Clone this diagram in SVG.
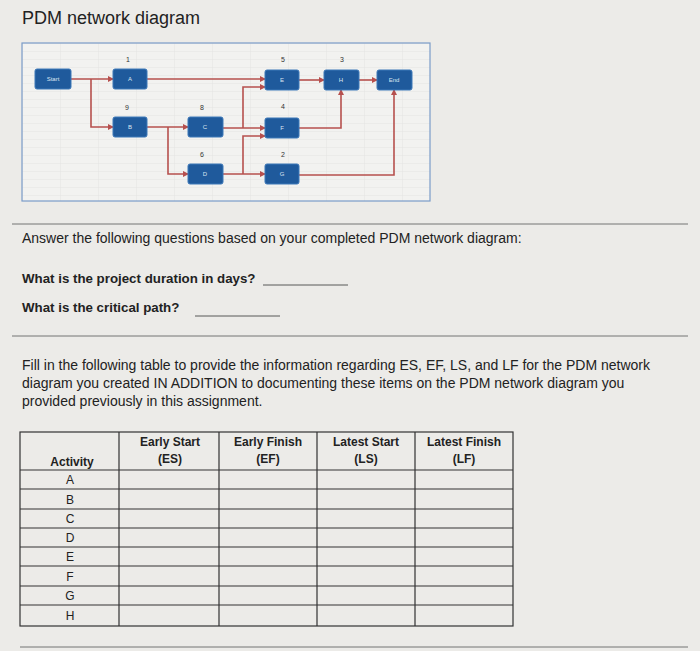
<svg xmlns="http://www.w3.org/2000/svg" width="700" height="651" viewBox="0 0 700 651">
<style>
text{font-family:"Liberation Sans",Arial,sans-serif;fill:#222}
.n rect{fill:#1f5a9c;stroke:#3d78b8;stroke-width:1}
.n text{fill:#dde6f2;font-size:6px;text-anchor:middle}
.d{font-size:7px;text-anchor:middle;fill:#333}
.c{fill:none;stroke:#b6504e;stroke-width:1.6}
.t{fill:none;stroke:#333;stroke-width:1.2}
.b{font-weight:bold;font-size:13.3px}
.h{font-weight:bold;font-size:12px;text-anchor:middle}
.r{font-size:12px;text-anchor:middle}
.p{font-size:14px}
</style>
<defs>
<marker id="ar" markerWidth="6" markerHeight="6" refX="5" refY="3" orient="auto" markerUnits="userSpaceOnUse"><path d="M0,0L6,3L0,6z" fill="#b6504e"/></marker>
<pattern id="grid" width="38" height="8" patternUnits="userSpaceOnUse" x="22" y="43"><path d="M0,0H38M0,0V8" stroke="#d8d8d8" stroke-width="0.6" fill="none"/></pattern>
</defs>
<rect width="700" height="651" fill="#ecebe8"/>
<text x="22" y="24" font-size="18">PDM network diagram</text>
<rect x="22" y="43" width="408" height="158" fill="#f2f2f0"/>
<rect x="22" y="43" width="408" height="158" fill="url(#grid)" stroke="#7a9cc9" stroke-width="1.2"/>
<g id="connectors">
<path class="c" d="M71,79H113" marker-end="url(#ar)"/>
<path class="c" d="M91,79V127H113" marker-end="url(#ar)"/>
<path class="c" d="M147,79H265" marker-end="url(#ar)"/>
<path class="c" d="M147,127H188" marker-end="url(#ar)"/>
<path class="c" d="M168,127V174H188" marker-end="url(#ar)"/>
<path class="c" d="M223,128H265" marker-end="url(#ar)"/>
<path class="c" d="M243,128V87H265" marker-end="url(#ar)"/>
<path class="c" d="M223,174H265" marker-end="url(#ar)"/>
<path class="c" d="M243,174V136H265" marker-end="url(#ar)"/>
<path class="c" d="M299,80H324" marker-end="url(#ar)"/>
<path class="c" d="M359,80H377" marker-end="url(#ar)"/>
<path class="c" d="M299,128H341V90" marker-end="url(#ar)"/>
<path class="c" d="M299,175H394V90" marker-end="url(#ar)"/>
</g>
<g id="Start" class="n"><rect x="35" y="69" width="36" height="20" rx="2"/><text x="53" y="81">Start</text></g>
<g id="A" class="n"><rect x="113" y="69" width="34" height="20" rx="2"/><text x="130" y="81">A</text></g>
<g id="E" class="n"><rect x="265" y="70" width="34" height="20" rx="2"/><text x="282" y="82">E</text></g>
<g id="H" class="n"><rect x="324" y="70" width="35" height="20" rx="2"/><text x="341" y="82">H</text></g>
<g id="End" class="n"><rect x="377" y="70" width="35" height="20" rx="2"/><text x="394" y="82">End</text></g>
<g id="B" class="n"><rect x="113" y="117" width="34" height="20" rx="2"/><text x="130" y="129">B</text></g>
<g id="C" class="n"><rect x="188" y="117" width="35" height="20" rx="2"/><text x="205" y="129">C</text></g>
<g id="F" class="n"><rect x="265" y="118" width="34" height="20" rx="2"/><text x="282" y="130">F</text></g>
<g id="D" class="n"><rect x="188" y="164" width="35" height="20" rx="2"/><text x="205" y="176">D</text></g>
<g id="G" class="n"><rect x="265" y="164" width="34" height="20" rx="2"/><text x="282" y="176">G</text></g>
<text class="d" x="128" y="62">1</text>
<text class="d" x="283" y="62">5</text>
<text class="d" x="342" y="62">3</text>
<text class="d" x="127" y="110">9</text>
<text class="d" x="202" y="110">8</text>
<text class="d" x="283" y="109">4</text>
<text class="d" x="202" y="157">6</text>
<text class="d" x="283" y="157">2</text>
<path d="M12,224H688M12,336H688M20,647H688" stroke="#555" stroke-width="0.8"/>
<text class="p" x="22" y="243" font-size="14.4">Answer the following questions based on your completed PDM network diagram:</text>
<text class="b" x="22" y="283">What is the project duration in days?</text>
<path d="M263,285H348M195,316H280" stroke="#333" stroke-width="0.8"/>
<text class="b" x="22" y="312">What is the critical path?</text>
<text class="p" x="22" y="370">Fill in the following table to provide the information regarding ES, EF, LS, and LF for the PDM network</text>
<text class="p" x="22" y="388">diagram you created IN ADDITION to documenting these items on the PDM network diagram you</text>
<text class="p" x="22" y="406">provided previously in this assignment.</text>
<g id="table">
<rect class="t" x="20" y="432" width="493" height="194" fill="#efeeec"/>
<path class="t" d="M119,432V626M219,432V626M317,432V626M415,432V626M20,470H513M20,489H513M20,509H513M20,528H513M20,547H513M20,566H513M20,586H513M20,605H513"/>
<text class="h" x="72" y="466">Activity</text>
<text class="h" x="170" y="446">Early Start</text><text class="h" x="170" y="463">(ES)</text>
<text class="h" x="268" y="446">Early Finish</text><text class="h" x="268" y="463">(EF)</text>
<text class="h" x="366" y="446">Latest Start</text><text class="h" x="366" y="463">(LS)</text>
<text class="h" x="464" y="446">Latest Finish</text><text class="h" x="464" y="463">(LF)</text>
<text class="r" x="70" y="484">A</text>
<text class="r" x="70" y="504">B</text>
<text class="r" x="70" y="523">C</text>
<text class="r" x="70" y="542">D</text>
<text class="r" x="70" y="561">E</text>
<text class="r" x="70" y="581">F</text>
<text class="r" x="70" y="600">G</text>
<text class="r" x="70" y="620">H</text>
</g>
</svg>
